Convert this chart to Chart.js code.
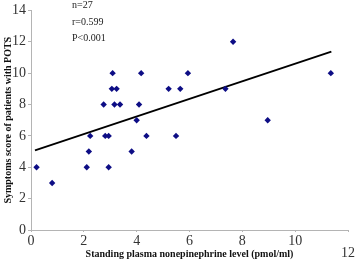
<!DOCTYPE html>
<html>
<head>
<meta charset="utf-8">
<script src="https://cdn.jsdelivr.net/npm/chart.js@4"></script>
<style>
  html, body { margin: 0; padding: 0; background: #fff; }
  #wrap { position: relative; width: 358px; height: 262px; }
  .note { position: absolute; left: 72px; font: 10px "Liberation Serif", serif; color: #222; line-height: 12px; }
</style>
</head>
<body>
<div id="wrap">
  <canvas id="chart" width="358" height="262"></canvas>
  <div class="note" style="top:-1px">n=27</div>
  <div class="note" style="top:16px">r=0.599</div>
  <div class="note" style="top:32px">P&lt;0.001</div>
</div>
<script>
// standing plasma norepinephrine (pmol/ml) vs symptom score, 27 patients
var npeLevels = [0.21, 0.8, 2.11, 2.19, 2.24, 2.75, 2.81, 2.94, 2.94, 3.06, 3.09, 3.16, 3.24, 3.37,
                 3.81, 4.0, 4.09, 4.17, 4.37, 5.21, 5.49, 5.65, 5.94, 7.36, 7.65, 8.96, 11.35];
var symptomScores = [4, 3, 4, 5, 6, 8, 6, 6, 4, 9, 10, 8, 9, 8,
                     5, 7, 8, 10, 6, 9, 6, 9, 10, 9, 12, 7, 10];

// fitted line end points
var fitX = [0.15, 11.37];
var fitY = [5.08, 11.37];

var xTicks = [0, 2, 4, 6, 8, 10, 12];
var yTicks = [0, 2, 4, 6, 8, 10, 12, 14];

var points = npeLevels.map(function(x, i) { return {x: x, y: symptomScores[i]}; });
var fitPoints = fitX.map(function(x, i) { return {x: x, y: fitY[i]}; });

var axisGray = '#b4b4b4';
var titleFont = {family: '"Liberation Serif", serif', size: 10, weight: 'bold'};

new Chart(document.getElementById('chart').getContext('2d'), {
    type: 'scatter',
    data: {
        datasets: [{
            data: points,
            pointStyle: 'rectRot',
            pointRadius: 3.2,
            backgroundColor: '#0d0d85',
            borderColor: '#0d0d85',
            borderWidth: 0
        }, {
            type: 'line',
            data: fitPoints,
            borderColor: '#000',
            borderWidth: 1.8,
            pointRadius: 0,
            fill: false
        }]
    },
    options: {
        responsive: false,
        animation: false,
        layout: {padding: {top: 5, right: 7, left: 0, bottom: 0}},
        plugins: {legend: {display: false}, tooltip: {enabled: false}},
        scales: {
            x: {
                type: 'linear',
                min: 0,
                max: 12,
                afterBuildTicks: function(scale) {
                    scale.ticks = xTicks.map(function(v) { return {value: v}; });
                },
                afterFit: function(scale) { scale.height = 32; },
                border: {color: axisGray, width: 1},
                grid: {drawOnChartArea: false, color: axisGray, tickLength: 2},
                ticks: {
                    font: {family: '"Liberation Serif", serif', size: 14, lineHeight: 0.85},
                    color: '#333',
                    padding: 3,
                    maxRotation: 0,
                    // the last label sits a little lower in the original
                    callback: function(v) { return v === 12 ? ['', '12'] : v; }
                },
                title: {
                    display: true,
                    text: 'Standing plasma nonepinephrine level (pmol/ml)',
                    font: titleFont,
                    color: '#111',
                    padding: {top: 0, bottom: 2}
                }
            },
            y: {
                type: 'linear',
                min: 0,
                max: 14,
                afterBuildTicks: function(scale) {
                    scale.ticks = yTicks.map(function(v) { return {value: v}; });
                },
                afterFit: function(scale) { scale.width = 31; },
                border: {color: axisGray, width: 1},
                grid: {drawOnChartArea: false, color: axisGray, tickLength: 3},
                ticks: {font: {family: '"Liberation Serif", serif', size: 14}, color: '#333', padding: 2},
                title: {
                    display: true,
                    text: 'Symptoms score of patients with POTS',
                    font: titleFont,
                    color: '#111',
                    padding: {top: 2, bottom: 0}
                }
            }
        }
    }
});
</script>
</body>
</html>
